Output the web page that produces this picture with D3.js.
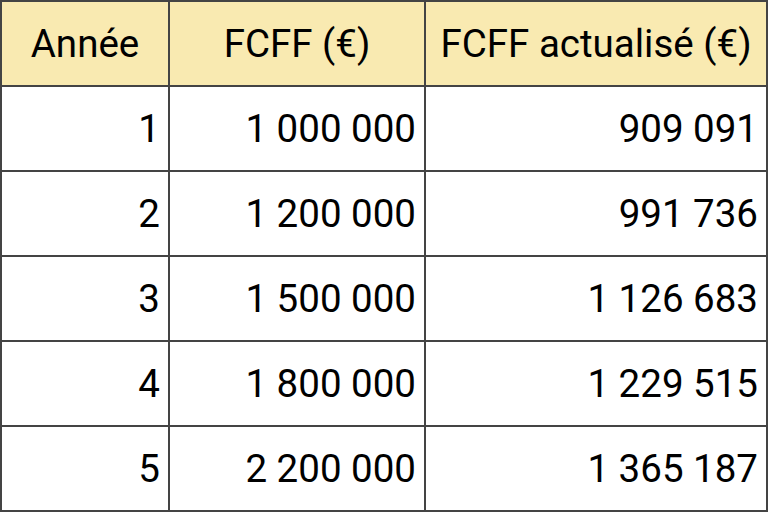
<!DOCTYPE html>
<html><head><meta charset="utf-8">
<script src="https://cdn.jsdelivr.net/npm/d3@7"></script>
<style>body{margin:0;background:#fff}</style>
</head><body><svg id="chart" width="768" height="512"></svg>
<script>
const headers = ['Année', 'FCFF (€)', 'FCFF actualisé (€)']
const years = ['1', '2', '3', '4', '5']
const fcff = ['1 000 000', '1 200 000', '1 500 000', '1 800 000', '2 200 000']
const fcffDiscounted = ['909 091', '991 736', '1 126 683', '1 229 515', '1 365 187']

const width = 768, height = 512
const colEdges = [1, 169, 425, 767]
const rowH = 85
const svg = d3.select('#chart')

const rows = years.map((y, i) => [y, fcff[i], fcffDiscounted[i]])

svg.append('rect').attr('x', 1).attr('y', 1).attr('width', 766).attr('height', rowH - 1)
  .attr('fill', '#f9eab1')

const font = 'Roboto, sans-serif'
svg.selectAll('text.h').data(headers).join('text').classed('h', true)
  .attr('x', (d, i) => (colEdges[i] + colEdges[i + 1]) / 2)
  .attr('y', rowH / 2 + 14)
  .attr('text-anchor', 'middle')
  .attr('font-family', font).attr('font-size', 38.5).attr('fill', '#000')
  .text(d => d)

const g = svg.selectAll('g.row').data(rows).join('g').classed('row', true)
  .attr('transform', (d, i) => `translate(0,${rowH * (i + 1)})`)
g.selectAll('text').data(d => d).join('text')
  .attr('x', (d, i) => colEdges[i + 1] - 9)
  .attr('y', rowH / 2 + 14)
  .attr('text-anchor', 'end')
  .attr('font-family', font).attr('font-size', 38.5).attr('fill', '#000')
  .text(d => d)

const lines = svg.append('g').attr('stroke', '#444').attr('stroke-width', 2)
d3.range(0, 7).forEach(i => {
  const y = Math.min(i * rowH + 1, height - 1)
  lines.append('line').attr('x1', 0).attr('x2', width).attr('y1', y).attr('y2', y)
})
colEdges.forEach(x => {
  lines.append('line').attr('x1', x).attr('x2', x).attr('y1', 0).attr('y2', height)
})
</script></body></html>
